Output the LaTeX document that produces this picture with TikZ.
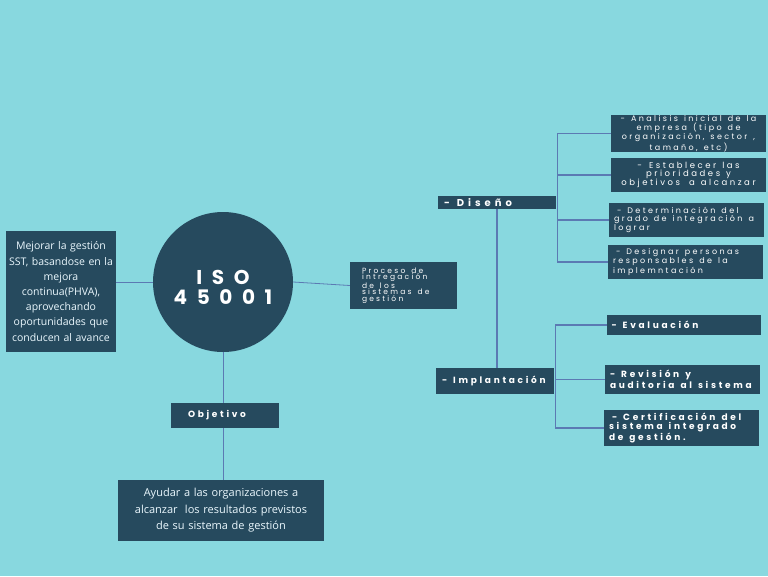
\documentclass[tikz,border=0pt]{standalone}
\usepackage{fontspec}
\setmainfont{Open Sans}
\newfontfamily\titulo{Poppins}
\usepackage{xcolor}
\usetikzlibrary{positioning}
\definecolor{fondo}{HTML}{88D8DF}
\definecolor{cajaazul}{HTML}{264A5E}
\definecolor{linea}{HTML}{5B7AB3}
\def\ancho{768}
\def\alto{576}
% fuente espaciada: [espaciado]{tamano}{interlinea}
\newcommand{\letra}[3][30]{\titulo\fontsize{#2}{#3}\selectfont\addfontfeature{LetterSpace=#1}}
\newcommand{\esp}{\hspace{6pt}}

\begin{document}
\begin{tikzpicture}[x=1pt, y=-1pt,
	caja/.style={fill=cajaazul, text=white, inner sep=0pt},
	hoja/.style={caja, minimum width=155, text width=145, align=left, font=\letra{8}{7.5}},
	rama/.style={draw=linea, line width=1.2pt},
	tronco/.style={draw=linea, line width=2.5pt},
	fino/.style={draw=linea, line width=0.8pt}]
	\fill[fondo] (0,0) rectangle (\ancho,\alto);
	%\draw[step=50, black!20!white] (0,0) grid (\ancho,\alto);
	\node[circle, fill=cajaazul, text=white, minimum size=140, align=center, font={\bfseries\letra[48]{20}{20}}] (iso) at (223,282) {\rule{0pt}{24pt}ISO\\45001};
	\node[caja, minimum width=110, minimum height=121, text width=108, align=center, text=white!92!cyan, font=\fontsize{10.5}{15.2}\selectfont] (mejora) at (61,291.5) {Mejorar la gesti\'on\\SST, basandose en la\\mejora\\continua(PHVA),\\aprovechando\\oportunidades que\\conducen al avance};
	\node[caja, minimum width=108, minimum height=25, text width=108, align=left, font=\bfseries\letra{9}{9}] (objetivo) at (225,415.5) {\hspace*{17pt}Objetivo};
	\node[caja, minimum width=206, minimum height=61, text width=200, align=center, text=white!92!cyan, font=\fontsize{11}{16.5}\selectfont] (ayudar) at (221,510.5) {Ayudar a las organizaciones a\\alcanzar\ \ los resultados previstos\\de su sistema de gesti\'on};
	\node[caja, minimum width=107, minimum height=47, text width=83, align=left, font=\letra{7.5}{6.5}] (proceso) at (403.5,285.5) {Proceso\esp de\\intregaci\'on\\de\esp los\\sistemas\esp de\\gesti\'on};
	\node[caja, minimum width=118, minimum height=13, text width=106, align=left, font={\bfseries\letra[40]{10}{10}}] (diseno) at (497,202.5) {-\hspace{7pt}Dise\~no};
	\node[caja, minimum width=118, minimum height=26, text width=106, align=left, font=\bfseries\letra{9}{9}] (implantacion) at (495,381) {-\esp Implantaci\'on};
	% Diseno
	\node[hoja, minimum height=35, align=center] (analisis) at (688.5,133.5) {-\esp Analisis\esp inicial\esp de\esp la\\empresa\esp (tipo\esp de\\organizaci\'on,\esp sector\esp ,\\tama\~no,\esp etc)};
	\node[hoja, minimum height=34, align=center, font=\letra{8.5}{8}] (prioridades) at (688.5,175) {-\hspace{7pt}Establecer\esp las\\prioridades\esp y\\objetivos\hspace{9pt}a\esp alcanzar};
	\node[hoja, minimum height=34] (grado) at (686.5,220) {\hspace*{3pt}-\esp Determinaci\'on\esp del\\grado\esp de\esp integraci\'on\esp a\\lograr};
	\node[hoja, minimum height=34] (designar) at (685.5,262) {\hspace*{3pt}-\esp Designar\esp personas\\responsables\esp de\esp la\\implemntaci\'on};
	% Implantacion
	\node[hoja, minimum width=154, minimum height=20, font=\bfseries\letra{9}{9}] (evaluacion) at (684,325) {-\esp Evaluaci\'on};
	\node[hoja, minimum height=29, font=\bfseries\letra{9}{9}] (revision) at (682.5,379.5) {-\esp Revisi\'on\esp y\\auditoria\esp al\esp sistema};
	\node[hoja, minimum height=36, font=\bfseries\letra{9}{9}] (certificacion) at (681.5,428) {\hspace*{3pt}-\esp Certificaci\'on\esp del\\sistema\esp integrado\\de\esp gesti\'on.};
	% conectores
	\draw[fino] (iso.west) -- (mejora.east |- iso.west);
	\draw[fino] (iso.east) -- (proceso.west);
	\draw[fino] (iso.south) -- (objetivo.north -| iso.south);
	\draw[fino] (objetivo.south -| iso.south) -- (ayudar.north -| iso.south);
	\draw[tronco] (diseno.south) -- (implantacion.north -| diseno.south);
	\foreach \h in {analisis, prioridades, grado, designar}
		\draw[rama] (diseno.east) ++(1,0) |- (\h.west);
	\foreach \h in {evaluacion, revision, certificacion}
		\draw[rama] (implantacion.east) ++(1,0) |- (\h.west);
\end{tikzpicture}
\end{document}
